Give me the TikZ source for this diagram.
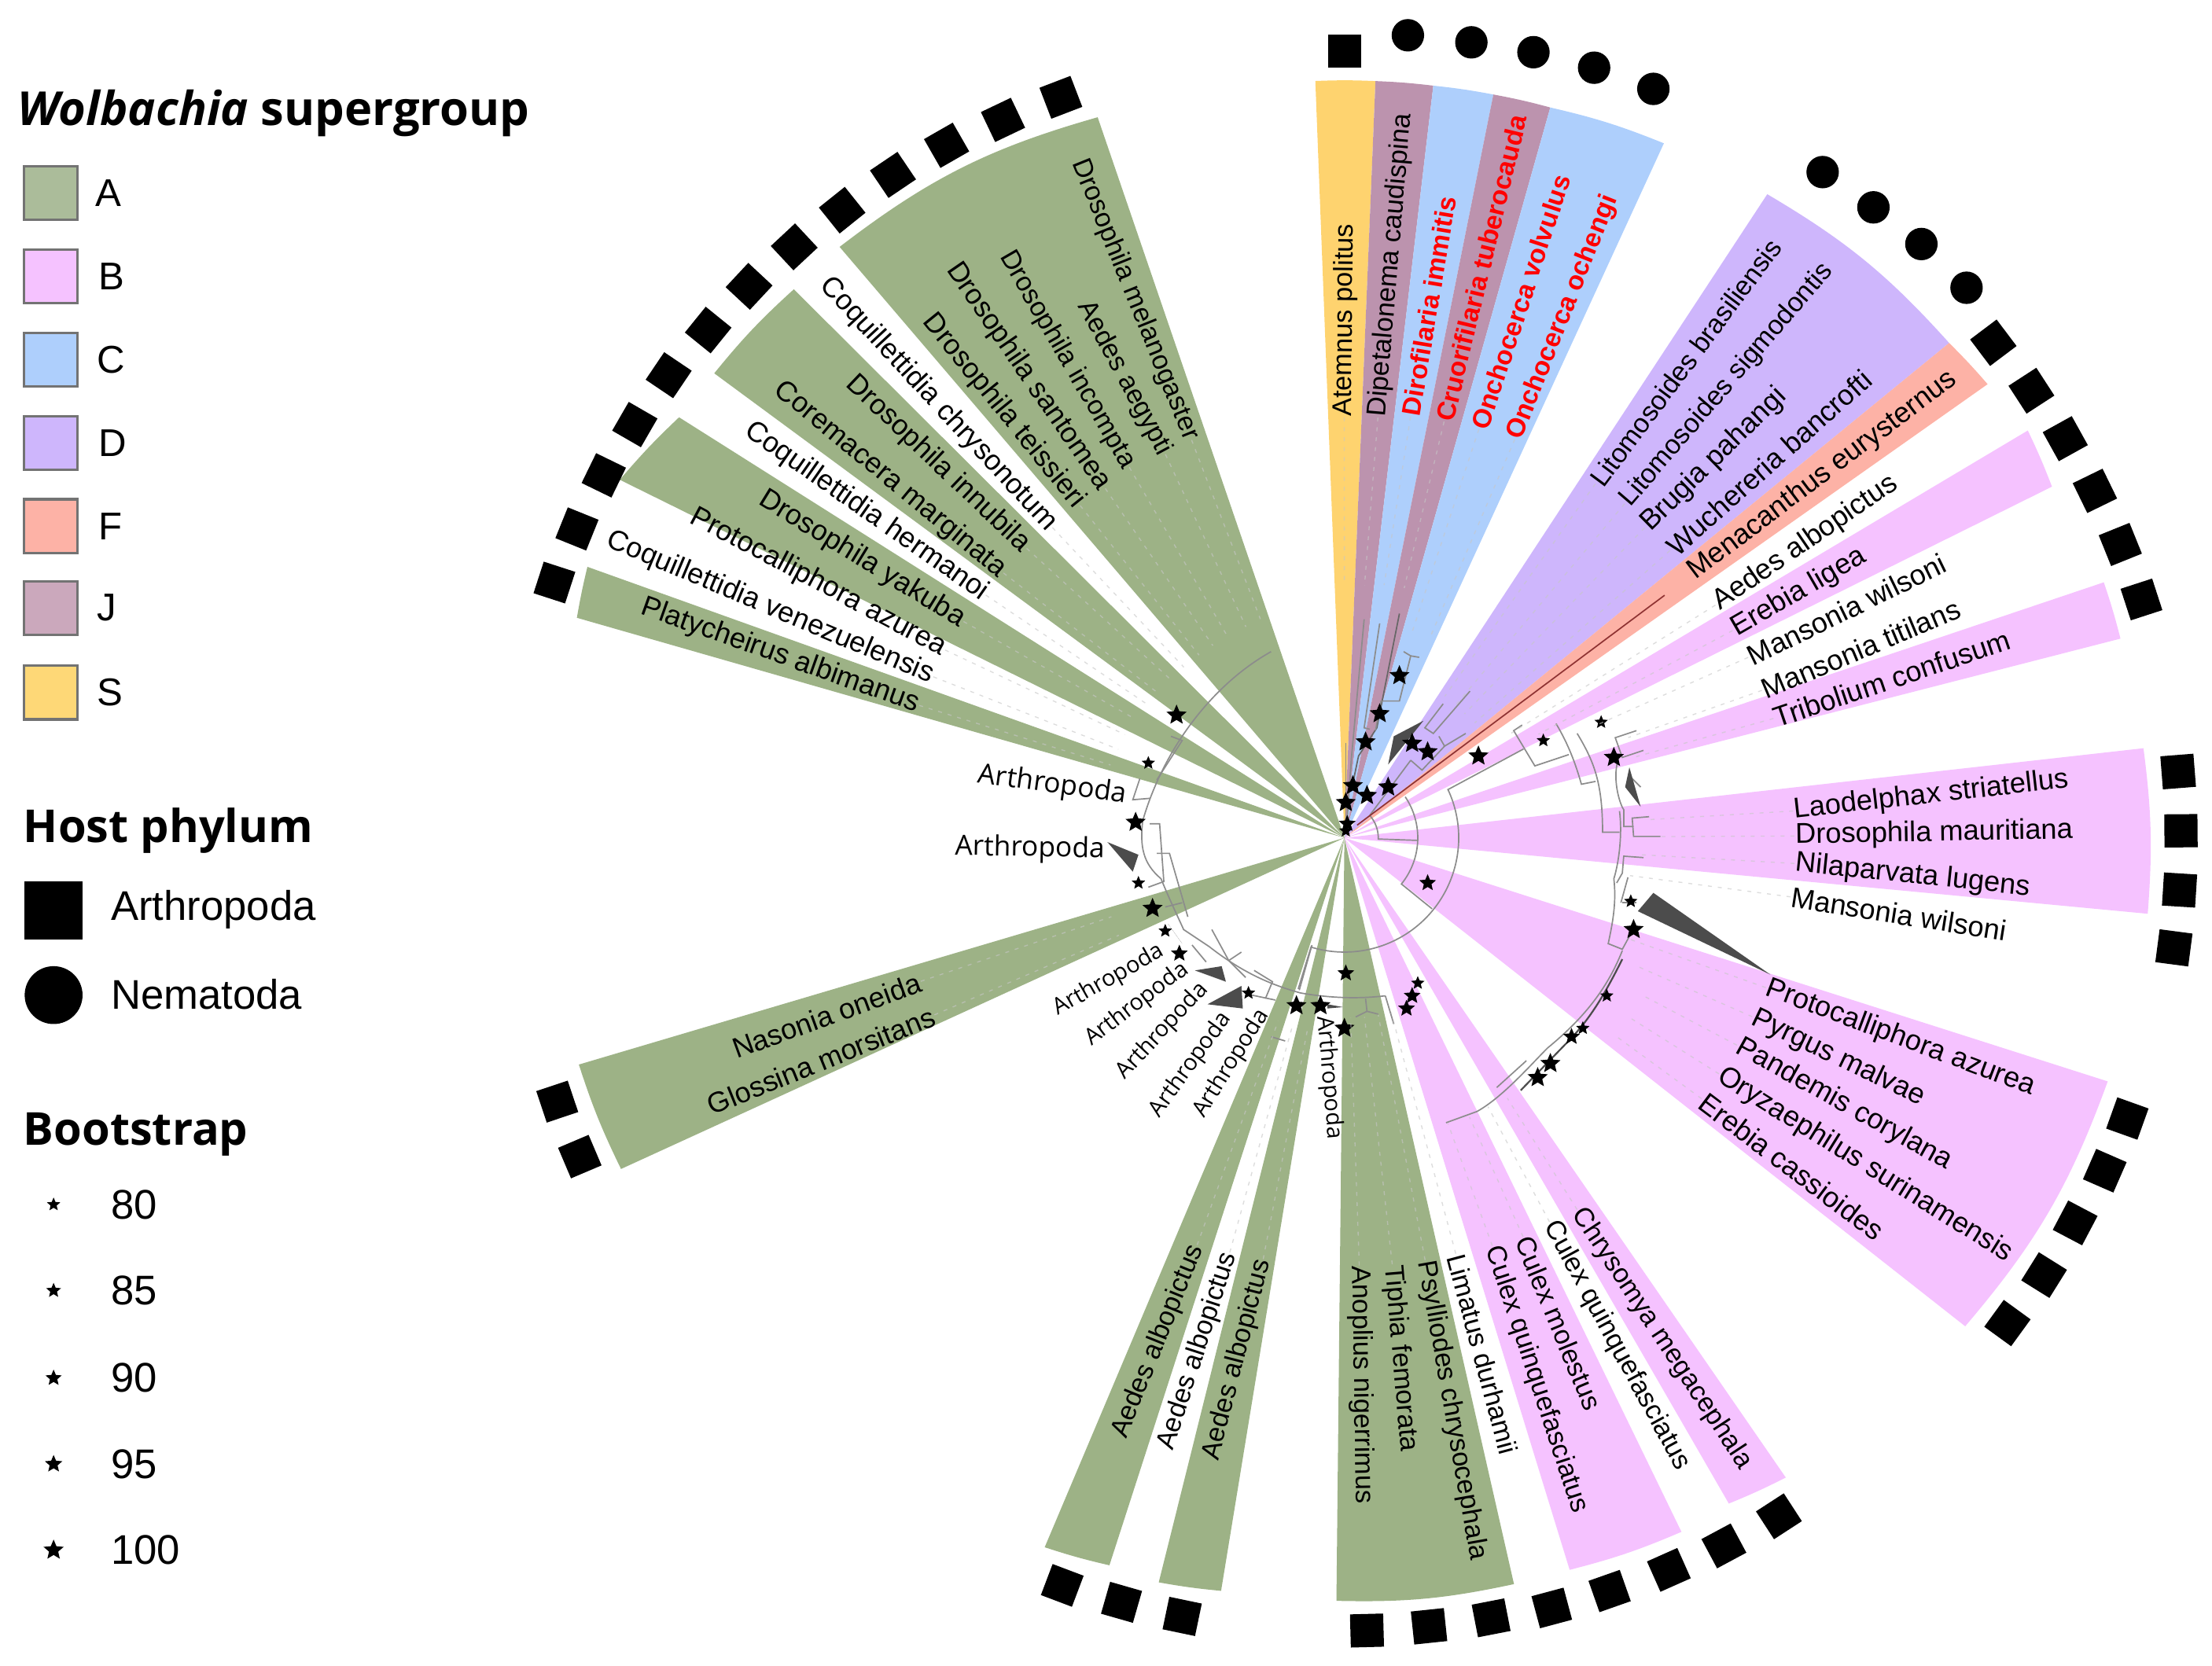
\documentclass[tikz,border=0pt]{standalone}
\usepackage{fontspec}
\setmainfont{Liberation Sans}
\newfontfamily\legfont{Open Sans}
\usetikzlibrary{calc,shapes.geometric}
\definecolor{grpA}{HTML}{9DB286}
\definecolor{grpB}{HTML}{F5C2FF}
\definecolor{grpC}{HTML}{AECFFC}
\definecolor{grpD}{HTML}{CEB6FC}
\definecolor{grpF}{HTML}{FDB2A6}
\definecolor{grpJ}{HTML}{BC93AE}
\definecolor{grpS}{HTML}{FED36F}
\definecolor{keyA}{HTML}{ABBC9A}
\definecolor{keyJ}{HTML}{CBA8BC}
\definecolor{keyS}{HTML}{FED877}
\tikzset{
  spc/.style={font=\fontsize{5.75}{6}\selectfont,inner sep=0pt},
  tall spc/.style={font=\fontsize{5.45}{6}\selectfont,inner sep=0pt},
  red spc/.style={inner sep=0pt,text=red,font=\fontsize{5.3}{6}\selectfont\bfseries},
  clade/.style={font=\legfont\fontsize{5.6}{6}\selectfont,inner sep=0pt},
  small clade/.style={font=\legfont\fontsize{4.6}{5}\selectfont,inner sep=0pt},
  tri/.style={fill=black!70},
  branch/.style={draw=black!45,line width=.27pt},
  leader/.style={draw=black!22,opacity=.6,line width=.22pt,dash pattern=on .8pt off 1.2pt},
  hostsq/.style={fill=black,inner sep=0pt,minimum width=.235cm,minimum height=.235cm},
  hostci/.style={fill=black,circle,inner sep=0pt,minimum size=.23cm},
  bsS/.style={star,star points=5,star point ratio=2.2,fill=black,inner sep=0pt,minimum size=.1cm},
  bsM/.style={star,star points=5,star point ratio=2.2,fill=black,inner sep=0pt,minimum size=.125cm},
  bsL/.style={star,star points=5,star point ratio=2.2,fill=black,inner sep=0pt,minimum size=.15cm},
  keybox/.style={draw=black!55,line width=.5pt,minimum width=.38cm,minimum height=.38cm,inner sep=0pt},
  keytxt/.style={font=\fontsize{7.8}{8}\selectfont,anchor=west,inner sep=0pt},
  keyhead/.style={font=\legfont\fontsize{9.15}{10}\selectfont\bfseries,anchor=west,inner sep=0pt},
  keynum/.style={font=\fontsize{8.35}{9}\selectfont,anchor=west,inner sep=0pt},
}
\begin{document}
\begin{tikzpicture}[x=.01cm,y=.01cm]
    \useasboundingbox (0,0) rectangle (1568,-1181);
    \coordinate (hub) at (953,-594);

    % wedges of the supergroups
    \begin{scope}[shift={(hub)}]
    \fill[grpS] (0,0) -- (92.2:537) to[bend left=2.3] (87.65:537) -- cycle;
    \fill[grpJ] (0,0) -- (87.65:537) to[bend left=2.2] (83.26:537) -- cycle;
    \fill[grpC] (0,0) -- (83.26:537) to[bend left=2.3] (78.67:537.5) -- cycle;
    \fill[grpJ] (0,0) -- (78.67:537.5) to[bend left=2.2] (74.26:538) -- cycle;
    \fill[grpC] (0,0) -- (74.26:538) to[bend left=4.5] (65.3:542) -- cycle;
    \fill[grpD] (0,0) -- (56.7:546) to[bend left=8.7] (39.3:554) -- cycle;
    \fill[grpF] (0,0) -- (39.3:554) to[bend left=2] (35.2:558) -- cycle;
    \fill[grpB] (0,0) -- (30.8:564) to[bend left=2.2] (26.4:560) -- cycle;
    \fill[grpB] (0,0) -- (18.6:568) to[bend left=2.1] (14.4:568) -- cycle;
    \fill[grpB] (0,0) -- (6.4:570) to[bend left=5.9] (-5.4:572) -- cycle;
    \fill[grpB] (0,0) -- (-17.7:568) to[bend left=10.2] (-38.2:560) -- cycle;
    \fill[grpB] (0,0) -- (-55.4:551) to[bend left=2.3] (-60:545) -- cycle;
    \fill[grpB] (0,0) -- (-64.1:547) to[bend left=4.4] (-72.9:543) -- cycle;
    \fill[grpA] (0,0) -- (-77.2:542.6) to[bend left=6.7] (-90.6:541) -- cycle;
    \fill[grpA] (0,0) -- (-99.3:541) to[bend left=2.3] (-104:544) -- cycle;
    \fill[grpA] (0,0) -- (-107.9:542) to[bend left=2.5] (-112.9:546) -- cycle;
    \fill[grpA] (0,0) -- (-155.4:564) to[bend left=4] (-163.5:566) -- cycle;
    \fill[grpA] (0,0) -- (164:566) to[bend left=1.8] (160.3:570) -- cycle;
    \fill[grpA] (0,0) -- (153.7:573) to[bend left=3] (147.7:558) -- cycle;
    \fill[grpA] (0,0) -- (143.6:555) to[bend left=4.3] (135.1:551) -- cycle;
    \fill[grpA] (0,0) -- (130.5:551) to[bend left=10.8] (108.9:540) -- cycle;
    \end{scope}

    % tree
    \begin{scope}[shift={(hub)}]
    \draw[branch] (41:24) arc[start angle=41,end angle=-2,radius=24] -- (-2:52);
    \draw[branch] (34:52) arc[start angle=34,end angle=-39,radius=52] -- (-39:80);
    \draw[branch] (25:81) arc[start angle=25,end angle=-107,radius=81] -- (-107:112);
    \end{scope}
    \draw[branch] (901,-462) .. controls (860,-485) and (825,-530) .. (810,-582);
    \draw[branch] (810,-582) .. controls (808,-600) and (810,-612) .. (823,-623) .. controls (830,-640) and (835,-650) .. (839,-659) -- (857,-671) .. controls (880,-689) and (900,-698) .. (922,-704) .. controls (945,-708) and (965,-708) .. (982,-706);
    \draw[branch] (830,-522) -- (838,-525) -- (820,-553);
    \draw[branch] (808,-552) -- (803,-567) -- (815,-566);
    \draw[branch] (815,-584) -- (822,-584) -- (825,-625) -- (814,-629);
    \draw[branch] (820,-605) -- (829,-605) -- (842,-650);
    \draw[branch] (838,-640) -- (826,-643);
    \draw[branch] (845,-670) -- (855,-682);
    \draw[branch] (859,-659) -- (871,-681) -- (883,-693);
    \draw[branch] (871,-681) -- (880,-675);
    \draw[branch] (889,-688) -- (902,-696) -- (897,-708);
    \draw[branch] (885,-705) -- (904,-709);
    \draw[branch] (901,-735) -- (911,-738);
    \draw[branch] (968,-708) -- (969,-717) -- (977,-719);
    \draw[branch] (961,-721) -- (969,-717);
    \draw[branch] (982,-706) -- (988,-726);
    \draw[branch] (930,-670) -- (921,-702);
    \draw[branch] (954,-527) -- (954,-585);
    \draw[branch] (967,-439) -- (958,-537) -- (955,-580);
    \draw[branch] (978,-442) -- (967,-516) -- (971,-517);
    \draw[branch,draw=black!60] (992,-435) -- (976,-516) -- (963,-536) -- (958,-560);
    \draw[branch] (995,-462) -- (1000,-465) -- (992,-497) -- (979,-497) -- (975,-518);
    \draw[branch] (1000,-465) -- (1006,-466);
    \draw[branch] (1042,-490) -- (1016,-520) -- (1010,-516) -- (1023,-499);
    \draw[branch] (1039,-520) -- (1024,-529) -- (1020,-522);
    \draw[branch] (1000,-539) -- (1008,-546) -- (1024,-529);
    \draw[branch] (1000,-539) -- (971,-578);
    \draw[branch,draw=red!45!black!80] (962,-585) -- (1180,-422);
    \draw[branch] (1026,-560) -- (1080,-531);
    \draw[branch] (1079,-514) -- (1073,-518) -- (1088,-543) -- (1112,-535);
    \draw[branch] (1103,-513) .. controls (1112,-528) and (1117,-542) .. (1121,-556) -- (1131,-554);
    \draw[branch] (1118,-520) .. controls (1130,-540) and (1136,-555) .. (1136,-590) -- (1148,-590);
    \draw[branch] (1160,-518) -- (1145,-523) -- (1150,-537) -- (1165,-532);
    \draw[branch] (1148,-536) .. controls (1142,-550) and (1148,-570) .. (1151,-574) -- (1151,-586) -- (1158,-586);
    \draw[branch] (1169,-579) -- (1157,-580) -- (1158,-593) -- (1177,-593);
    \draw[branch] (1157,-552) -- (1163,-558);
    \draw[branch] (1148,-575) .. controls (1150,-590) and (1148,-610) .. (1144,-623) .. controls (1146,-640) and (1143,-655) .. (1140,-669) -- (1150,-673) -- (1156,-662);
    \draw[branch] (1165,-608) -- (1151,-607) -- (1150,-619) -- (1146,-626);
    \draw[branch] (1154,-622) -- (1149,-640);
    \draw[branch] (1160,-640) -- (1150,-640);
    \draw[branch] (1150,-674) .. controls (1140,-699) and (1125,-720) .. (1097,-743) .. controls (1085,-755) and (1065,-778) .. (1047,-788) -- (1025,-796);
    \draw[branch,draw=black!70,line width=.35pt] (1150,-680) .. controls (1135,-710) and (1125,-725) .. (1109,-741) -- (1078,-773);
    \draw[branch] (1061,-771) -- (1082,-752);

    % collapsed clades
    \fill[tri] (1161,-646) -- (1172,-633) -- (1255,-691) -- cycle;
    \fill[tri] (1155,-544) -- (1152,-558) -- (1163,-572) -- cycle;
    \fill[tri] (1009,-511) -- (988,-522) -- (984,-542) -- cycle;
    \fill[tri] (785,-597) -- (807,-606) -- (803,-618) -- cycle;
    \fill[tri] (828,-655) -- (838,-669) -- (833,-662) -- cycle;
    \fill[tri] (847,-688) -- (866,-685) -- (869,-696) -- cycle;
    \fill[tri] (856,-712) -- (880,-699) -- (881,-715) -- cycle;
    \fill[tri] (941,-712) -- (952,-714) -- (941,-715) -- cycle;

    % bootstrap stars
    \node[bsL] (st1) at (992,-479) {};
    \node[bsL] (st2) at (978,-506) {};
    \node[bsL] (st3) at (968,-526) {};
    \node[bsL] (st4) at (959,-557) {};
    \node[bsL] (st5) at (954,-569) {};
    \node[bsL] (st6) at (969,-564) {};
    \node[bsL] (st7) at (984,-558) {};
    \node[bsM] (st8) at (955,-584) {};
    \node[bsS] (st9) at (954,-589) {};
    \node[bsL] (st10) at (1001,-527) {};
    \node[bsL] (st11) at (1012,-533) {};
    \node[bsL] (st12) at (1048,-536) {};
    \node[bsS] (st13) at (1094,-525) {};
    \node[bsS] (st14) at (1135,-512) {};
    \node[bsL] (st15) at (1144,-537) {};
    \node[bsS] (st16) at (1156,-639) {};
    \node[bsL] (st17) at (1158,-659) {};
    \node[bsM] (st18) at (1012,-626) {};
    \node[bsM] (st19) at (954,-690) {};
    \node[bsL] (st20) at (953,-729) {};
    \node[bsL] (st21) at (919,-713) {};
    \node[bsL] (st22) at (936,-713) {};
    \node[bsS] (st23) at (885,-704) {};
    \node[bsM] (st24) at (836,-676) {};
    \node[bsS] (st25) at (826,-660) {};
    \node[bsL] (st26) at (817,-644) {};
    \node[bsS] (st27) at (807,-626) {};
    \node[bsL] (st28) at (805,-583) {};
    \node[bsS] (st29) at (814,-541) {};
    \node[bsL] (st30) at (834,-507) {};
    \node[bsS] (st31) at (1005,-697) {};
    \node[bsM] (st32) at (1001,-706) {};
    \node[bsM] (st33) at (997,-715) {};
    \node[bsS] (st34) at (1139,-706) {};
    \node[bsS] (st35) at (1122,-729) {};
    \node[bsM] (st36) at (1114,-735) {};
    \node[bsL] (st37) at (1099,-754) {};
    \node[bsL] (st38) at (1090,-764) {};

    % clade labels
    \node[clade,rotate=-8] (artA) at (746,-557) {Arthropoda};
    \node[clade,rotate=-1] (artB) at (730,-602) {Arthropoda};
    \node[small clade,rotate=29.5] (artC) at (786,-695) {Arthropoda};
    \node[small clade,rotate=37] (artD) at (806,-712) {Arthropoda};
    \node[small clade,rotate=47] (artE) at (824,-731) {Arthropoda};
    \node[small clade,rotate=54] (artF) at (844,-755) {Arthropoda};
    \node[small clade,rotate=58] (artG) at (873,-754) {Arthropoda};
    \node[small clade,rotate=-85] (artH) at (942,-764) {Arthropoda};

    % species
    \node[tall spc,rotate=-68] (dMel) at (804.5,-212.5) {Drosophila melanogaster};
    \node[tall spc,rotate=-61.7] (aAeg) at (797,-268) {Aedes aegypti};
    \node[tall spc,rotate=-60] (dInc) at (756.5,-255) {Drosophila incompta};
    \node[spc,rotate=-55.5] (dSan) at (729,-267) {Drosophila santomea};
    \node[spc,rotate=-51] (dTei) at (711.5,-291.5) {Drosophila teissieri};
    \node[spc,rotate=-47.2] (cChr) at (665,-286.5) {Coquillettidia chrysonotum};
    \node[spc,rotate=-43.6] (dInn) at (665,-329) {Drosophila innubila};
    \node[spc,rotate=-39.5] (cMar) at (631,-340) {Coremacera marginata};
    \node[spc,rotate=-35] (cHer) at (614,-362.5) {Coquillettidia hermanoi};
    \node[spc,rotate=-31.5] (dYak) at (611,-396.5) {Drosophila yakuba};
    \node[spc,rotate=-28] (pAzuA) at (580,-413) {Protocalliphora azurea};
    \node[spc,rotate=-22.9] (cVen) at (546,-431) {Coquillettidia venezuelensis};
    \node[spc,rotate=-19.6] (pAlb) at (553,-465) {Platycheirus albimanus};
    \node[spc,rotate=20] (nOne) at (586,-720) {Nasonia oneida};
    \node[spc,rotate=22] (gMor) at (582,-752) {Glossina morsitans};
    \node[tall spc,rotate=68] (aAlbA) at (821,-951) {Aedes albopictus};
    \node[tall spc,rotate=72] (aAlbB) at (849,-958) {Aedes albopictus};
    \node[tall spc,rotate=75.5] (aAlbC) at (877,-964) {Aedes albopictus};
    \node[tall spc,rotate=-89] (aNig) at (965,-982) {Anoplius nigerrimus};
    \node[tall spc,rotate=-85.2] (tFem) at (992.5,-963) {Tiphia femorata};
    \node[tall spc,rotate=-80] (pChr) at (1029,-1000) {Psylliodes chrysocephala};
    \node[tall spc,rotate=-75] (lDur) at (1051,-960) {Limatus durhamii};
    \node[tall spc,rotate=-71.8] (cQuiA) at (1089,-978) {Culex quinquefasciatus};
    \node[tall spc,rotate=-67.5] (cMol) at (1105,-938) {Culex molestus};
    \node[tall spc,rotate=-61.5] (cQuiB) at (1146,-954) {Culex quinquefasciatus};
    \node[tall spc,rotate=-56.7] (cMeg) at (1178,-949) {Chrysomya megacephala};
    \node[spc,rotate=-20.6] (pAzuB) at (1347,-736) {Protocalliphora azurea};
    \node[spc,rotate=-25.6] (pMal) at (1303,-750) {Pyrgus malvae};
    \node[spc,rotate=-29] (pCor) at (1307,-783) {Pandemis corylana};
    \node[spc,rotate=-32] (oSur) at (1322,-826) {Oryzaephilus surinamensis};
    \node[spc,rotate=-37] (eCas) at (1270,-827) {Erebia cassioides};
    \node[spc,rotate=-9] (mWilA) at (1346,-648) {Mansonia wilsoni};
    \node[spc,rotate=-6] (nLug) at (1356,-621) {Nilaparvata lugens};
    \node[spc,rotate=1] (dMau) at (1371,-591) {Drosophila mauritiana};
    \node[spc,rotate=6.4] (lStr) at (1369,-564) {Laodelphax striatellus};
    \node[spc,rotate=18.7] (tCon) at (1341,-481) {Tribolium confusum};
    \node[spc,rotate=22.8] (mTit) at (1319,-460) {Mansonia titilans};
    \node[spc,rotate=26] (mWilB) at (1309,-432) {Mansonia wilsoni};
    \node[spc,rotate=30] (eLig) at (1275,-420) {Erebia ligea};
    \node[spc,rotate=34.5] (aAlbD) at (1280,-385) {Aedes albopictus};
    \node[spc,rotate=37] (mEur) at (1292,-337) {Menacanthus eurysternus};
    \node[spc,rotate=41.6] (wBan) at (1254,-328) {Wuchereria bancrofti};
    \node[spc,rotate=44.4] (bPah) at (1215,-326) {Brugia pahangi};
    \node[tall spc,rotate=49.3] (lSig) at (1224,-273) {Litomosoides sigmodontis};
    \node[tall spc,rotate=53.3] (lBra) at (1195,-257) {Litomosoides brasiliensis};
    \node[red spc,rotate=68.4] (oOch) at (1108,-225) {Onchocerca ochengi};
    \node[red spc,rotate=71.8] (oVol) at (1078,-214) {Onchocerca volvulus};
    \node[red spc,rotate=76.4] (cTub) at (1050,-190) {Cruorifilaria tuberocauda};
    \node[red spc,rotate=80.5] (dImm) at (1013,-217) {Dirofilaria immitis};
    \node[tall spc,rotate=85.1] (dCau) at (986,-188) {Dipetalonema caudispina};
    \node[tall spc,rotate=89.5] (aPol) at (953.5,-227) {Atemnus politus};

    % leaders
    \draw[leader] (dMel.east) -- ($(hub)!.55!(dMel.east)$) (aAeg.east) -- ($(hub)!.55!(aAeg.east)$) (dInc.east) -- ($(hub)!.55!(dInc.east)$) (dSan.east) -- ($(hub)!.55!(dSan.east)$) (dTei.east) -- ($(hub)!.55!(dTei.east)$) (cChr.east) -- ($(hub)!.55!(cChr.east)$) (dInn.east) -- ($(hub)!.55!(dInn.east)$) (cMar.east) -- ($(hub)!.55!(cMar.east)$) (cHer.east) -- ($(hub)!.55!(cHer.east)$) (dYak.east) -- ($(hub)!.55!(dYak.east)$) (pAzuA.east) -- ($(hub)!.55!(pAzuA.east)$) (cVen.east) -- ($(hub)!.55!(cVen.east)$) (pAlb.east) -- ($(hub)!.55!(pAlb.east)$) (nOne.east) -- ($(hub)!.55!(nOne.east)$) (gMor.east) -- ($(hub)!.55!(gMor.east)$);
    \draw[leader] (aAlbA.east) -- ($(hub)!.45!(aAlbA.east)$) (aAlbB.east) -- ($(hub)!.45!(aAlbB.east)$) (aAlbC.east) -- ($(hub)!.45!(aAlbC.east)$) (aNig.west) -- ($(hub)!.42!(aNig.west)$) (tFem.west) -- ($(hub)!.42!(tFem.west)$) (pChr.west) -- ($(hub)!.42!(pChr.west)$) (lDur.west) -- ($(hub)!.42!(lDur.west)$) (cQuiA.west) -- ($(hub)!.7!(cQuiA.west)$) (cMol.west) -- ($(hub)!.7!(cMol.west)$) (cQuiB.west) -- ($(hub)!.7!(cQuiB.west)$) (cMeg.west) -- ($(hub)!.7!(cMeg.west)$);
    \draw[leader] (pAzuB.west) -- ($(hub)!.68!(pAzuB.west)$) (pMal.west) -- ($(hub)!.72!(pMal.west)$) (pCor.west) -- ($(hub)!.76!(pCor.west)$) (oSur.west) -- ($(hub)!.76!(oSur.west)$) (eCas.west) -- ($(hub)!.76!(eCas.west)$) (mWilA.west) -- ($(hub)!.64!(mWilA.west)$) (nLug.west) -- ($(hub)!.66!(nLug.west)$) (dMau.west) -- ($(hub)!.7!(dMau.west)$) (lStr.west) -- ($(hub)!.68!(lStr.west)$) (tCon.west) -- ($(hub)!.68!(tCon.west)$) (mTit.west) -- ($(hub)!.68!(mTit.west)$) (mWilB.west) -- ($(hub)!.62!(mWilB.west)$) (eLig.west) -- ($(hub)!.5!(eLig.west)$) (aAlbD.west) -- ($(hub)!.45!(aAlbD.west)$);
    \draw[leader] (wBan.west) -- ($(hub)!.4!(wBan.west)$) (bPah.west) -- ($(hub)!.4!(bPah.west)$) (lSig.west) -- ($(hub)!.4!(lSig.west)$) (lBra.west) -- ($(hub)!.4!(lBra.west)$) (oOch.west) -- ($(hub)!.5!(oOch.west)$) (oVol.west) -- ($(hub)!.5!(oVol.west)$) (cTub.west) -- ($(hub)!.6!(cTub.west)$) (dImm.west) -- ($(hub)!.6!(dImm.west)$) (dCau.west) -- ($(hub)!.6!(dCau.west)$) (aPol.west) -- ($(hub)!.6!(aPol.west)$);

    % host ring
    \node[hostsq] (hsA) at (953,-36) {};
    \node[hostci] (hcA) at (998,-25) {};
    \node[hostci] (hcB) at (1043,-30) {};
    \node[hostci] (hcC) at (1087,-37) {};
    \node[hostci] (hcD) at (1130,-48) {};
    \node[hostci] (hcE) at (1172,-63) {};
    \node[hostci] (hcF) at (1292,-122) {};
    \node[hostci] (hcG) at (1328,-147) {};
    \node[hostci] (hcH) at (1362,-173) {};
    \node[hostci] (hcI) at (1394,-204) {};
    \node[hostsq,rotate=37] (hsB) at (1413,-243) {};
    \node[hostsq,rotate=33] (hsC) at (1440,-277) {};
    \node[hostsq,rotate=29] (hsD) at (1464,-311) {};
    \node[hostsq,rotate=26] (hsE) at (1485,-348) {};
    \node[hostsq,rotate=22] (hsF) at (1503,-386) {};
    \node[hostsq,rotate=18] (hsG) at (1518,-425) {};
    \node[hostsq,rotate=4.5] (hsH) at (1544,-547) {};
    \node[hostsq,rotate=.5] (hsI) at (1546,-589) {};
    \node[hostsq,rotate=-3.6] (hsJ) at (1545,-631) {};
    \node[hostsq,rotate=-7.5] (hsK) at (1541,-672) {};
    \node[hostsq,rotate=-19.7] (hsL) at (1508,-793) {};
    \node[hostsq,rotate=-23.6] (hsM) at (1492,-830) {};
    \node[hostsq,rotate=-27.8] (hsN) at (1471,-867) {};
    \node[hostsq,rotate=-32] (hsO) at (1449,-904) {};
    \node[hostsq,rotate=-36] (hsP) at (1423,-938) {};
    \node[hostsq,rotate=-57] (hsQ) at (1261,-1075) {};
    \node[hostsq,rotate=-61.8] (hsR) at (1222,-1096) {};
    \node[hostsq,rotate=-66] (hsS) at (1183,-1113) {};
    \node[hostsq,rotate=-70.6] (hsT) at (1141,-1128) {};
    \node[hostsq,rotate=-75] (hsU) at (1100,-1140) {};
    \node[hostsq,rotate=-79] (hsV) at (1057,-1147) {};
    \node[hostsq,rotate=-84] (hsW) at (1013,-1153) {};
    \node[hostsq,rotate=-88.5] (hsX) at (969,-1156) {};
    \node[hostsq,rotate=78.2] (hsY) at (838,-1146) {};
    \node[hostsq,rotate=74] (hsZ) at (795,-1136) {};
    \node[hostsq,rotate=69.3] (hsAa) at (753,-1124) {};
    \node[hostsq,rotate=23] (hsAb) at (411,-820) {};
    \node[hostsq,rotate=18.5] (hsAc) at (395,-781) {};
    \node[hostsq,rotate=-18] (hsAd) at (393,-413) {};
    \node[hostsq,rotate=-22] (hsAe) at (409,-375) {};
    \node[hostsq,rotate=-26] (hsAf) at (428,-337) {};
    \node[hostsq,rotate=-30] (hsAg) at (450,-301) {};
    \node[hostsq,rotate=-34] (hsAh) at (474,-266) {};
    \node[hostsq,rotate=-39] (hsAi) at (502,-234) {};
    \node[hostsq,rotate=-43] (hsAj) at (531,-203) {};
    \node[hostsq,rotate=-47] (hsAk) at (563,-175) {};
    \node[hostsq,rotate=-51.3] (hsAl) at (597,-149) {};
    \node[hostsq,rotate=-56] (hsAm) at (633,-124) {};
    \node[hostsq,rotate=-60.2] (hsAn) at (671,-103) {};
    \node[hostsq,rotate=-64.5] (hsAo) at (711,-85) {};
    \node[hostsq,rotate=-69] (hsAp) at (752,-69) {};

    % legend
    \node[keyhead,font=\legfont\fontsize{9.45}{10}\selectfont\bfseries] (keyWol) at (12,-80) {\textit{Wolbachia} supergroup};
    \node[keybox,fill=keyA] (boxA) at (36,-137) {};
    \node[keybox,fill=grpB] (boxB) at (36,-196) {};
    \node[keybox,fill=grpC] (boxC) at (36,-255) {};
    \node[keybox,fill=grpD] (boxD) at (36,-314) {};
    \node[keybox,fill=grpF] (boxF) at (36,-373) {};
    \node[keybox,fill=keyJ] (boxJ) at (36,-431) {};
    \node[keybox,fill=keyS] (boxS) at (36,-491) {};
    \node[keytxt] (txtA) at (67,-137) {A};
    \node[keytxt] (txtB) at (69,-196) {B};
    \node[keytxt] (txtC) at (68,-255) {C};
    \node[keytxt] (txtD) at (69,-314) {D};
    \node[keytxt] (txtF) at (69,-373) {F};
    \node[keytxt] (txtJ) at (68,-431) {J};
    \node[keytxt] (txtS) at (68,-491) {S};
    \node[keyhead] (keyHost) at (16,-589) {Host phylum};
    \node[fill=black,minimum size=.41cm,inner sep=0pt] (keyArt) at (38,-645.5) {};
    \node[fill=black,circle,minimum size=.41cm,inner sep=0pt] (keyNem) at (38,-705.5) {};
    \node[keynum] (txtArt) at (78,-645) {Arthropoda};
    \node[keynum] (txtNem) at (78,-705) {Nematoda};
    \node[keyhead] (keyBoot) at (16,-804) {Bootstrap};
    \node[bsS] (keyEi) at (38,-854) {};
    \node[bsS,minimum size=.11cm] (keyEf) at (38,-915) {};
    \node[bsM,minimum size=.12cm] (keyNi) at (38,-977) {};
    \node[bsM,minimum size=.13cm] (keyNf) at (38,-1038) {};
    \node[bsL] (keyHu) at (38,-1099) {};
    \node[keynum] (numEi) at (78,-854) {80};
    \node[keynum] (numEf) at (78,-915) {85};
    \node[keynum] (numNi) at (78,-977) {90};
    \node[keynum] (numNf) at (78,-1038) {95};
    \node[keynum] (numHu) at (78,-1099) {100};
\end{tikzpicture}
\end{document}
